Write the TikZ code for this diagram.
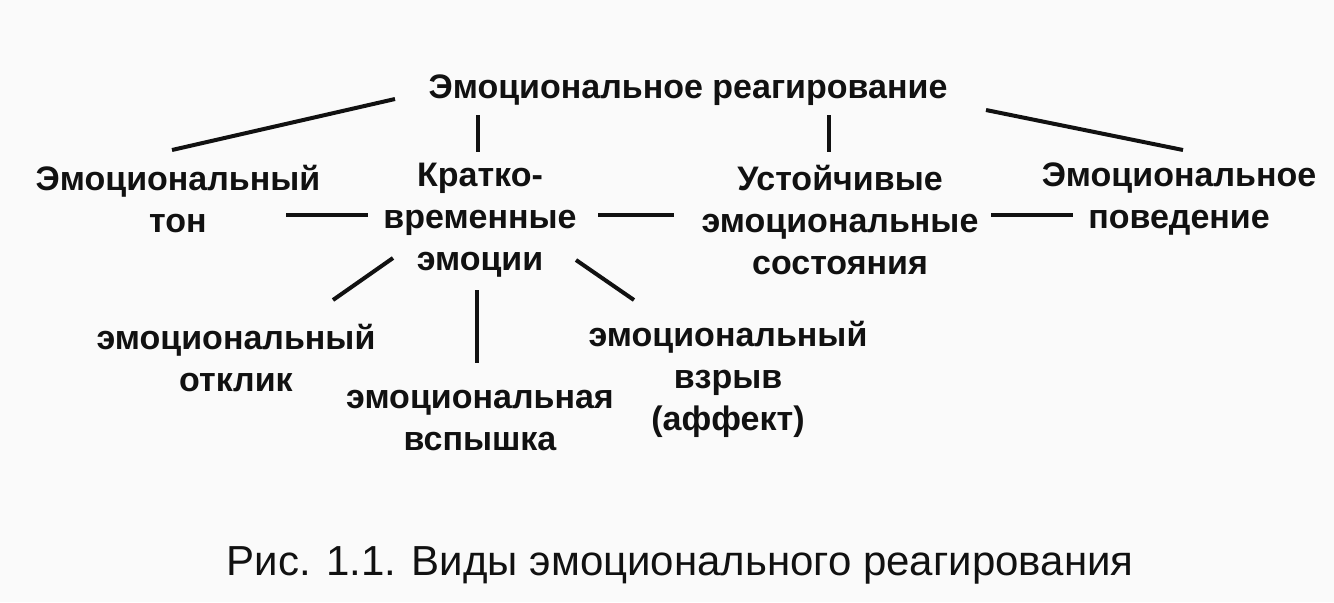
\documentclass[tikz,border=0pt]{standalone}
\usepackage{fontspec}
\setmainfont{Liberation Sans}
\usepackage{tikz}
\definecolor{ink}{RGB}{17, 17, 17}
\definecolor{paper}{RGB}{250, 250, 250}

\begin{document}
\begin{tikzpicture}[x=0.5pt, y=-0.5pt,
    term/.style={align=center, inner sep=0pt, text=ink,
        font=\bfseries\fontsize{17}{21}\selectfont},
    link/.style={draw=ink, line width=2pt}]

    \fill[paper] (0, 0) rectangle (1334, 602);
    \useasboundingbox (0, 0) rectangle (1334, 602);

    \node[term] (react) at (688, 90) {Эмоциональное реагирование};
    \node[term] (tone) at (178, 199) {Эмоциональный\\тон};
    \node[term] (short) at (480, 220) {Кратко-\\временные\\эмоции};
    \node[term] (stable) at (840, 220) {Устойчивые\\эмоциональные\\состояния};
    \node[term] (behav) at (1179, 199) {Эмоциональное\\поведение};
    \node[term] (answer) at (236, 358) {эмоциональный\\отклик};
    \node[term] (flash) at (480, 421) {эмоциональная\\вспышка};
    \node[term] (burst) at (728, 379) {эмоциональный\\взрыв\\(аффект)};

    \draw[link] ([shift={(-293, 9)}]react.center) -- ([shift={(-6, -49)}]tone.center);
    \draw[link] ([shift={(-210, 25)}]react.center) -- ([shift={(-2, -68)}]short.center);
    \draw[link] ([shift={(141, 25)}]react.center) -- ([shift={(-11, -68)}]stable.center);
    \draw[link] ([shift={(298, 20)}]react.center) -- ([shift={(4, -49)}]behav.center);

    \draw[link] ([shift={(108, 16)}]tone.center) -- ([shift={(-112, -5)}]short.center);
    \draw[link] ([shift={(118, -5)}]short.center) -- ([shift={(-166, -5)}]stable.center);
    \draw[link] ([shift={(151, -5)}]stable.center) -- ([shift={(-106, 16)}]behav.center);

    \draw[link] ([shift={(-87, 38)}]short.center) -- ([shift={(97, -58)}]answer.center);
    \draw[link] ([shift={(-3, 70)}]short.center) -- ([shift={(-3, -58)}]flash.center);
    \draw[link] ([shift={(96, 40)}]short.center) -- ([shift={(-94, -79)}]burst.center);

    \node[text=ink, inner sep=0pt, font=\fontsize{21}{25}\selectfont] (caption) at (680, 565)
        {Рис. 1.1. Виды эмоционального реагирования};

\end{tikzpicture}
\end{document}
